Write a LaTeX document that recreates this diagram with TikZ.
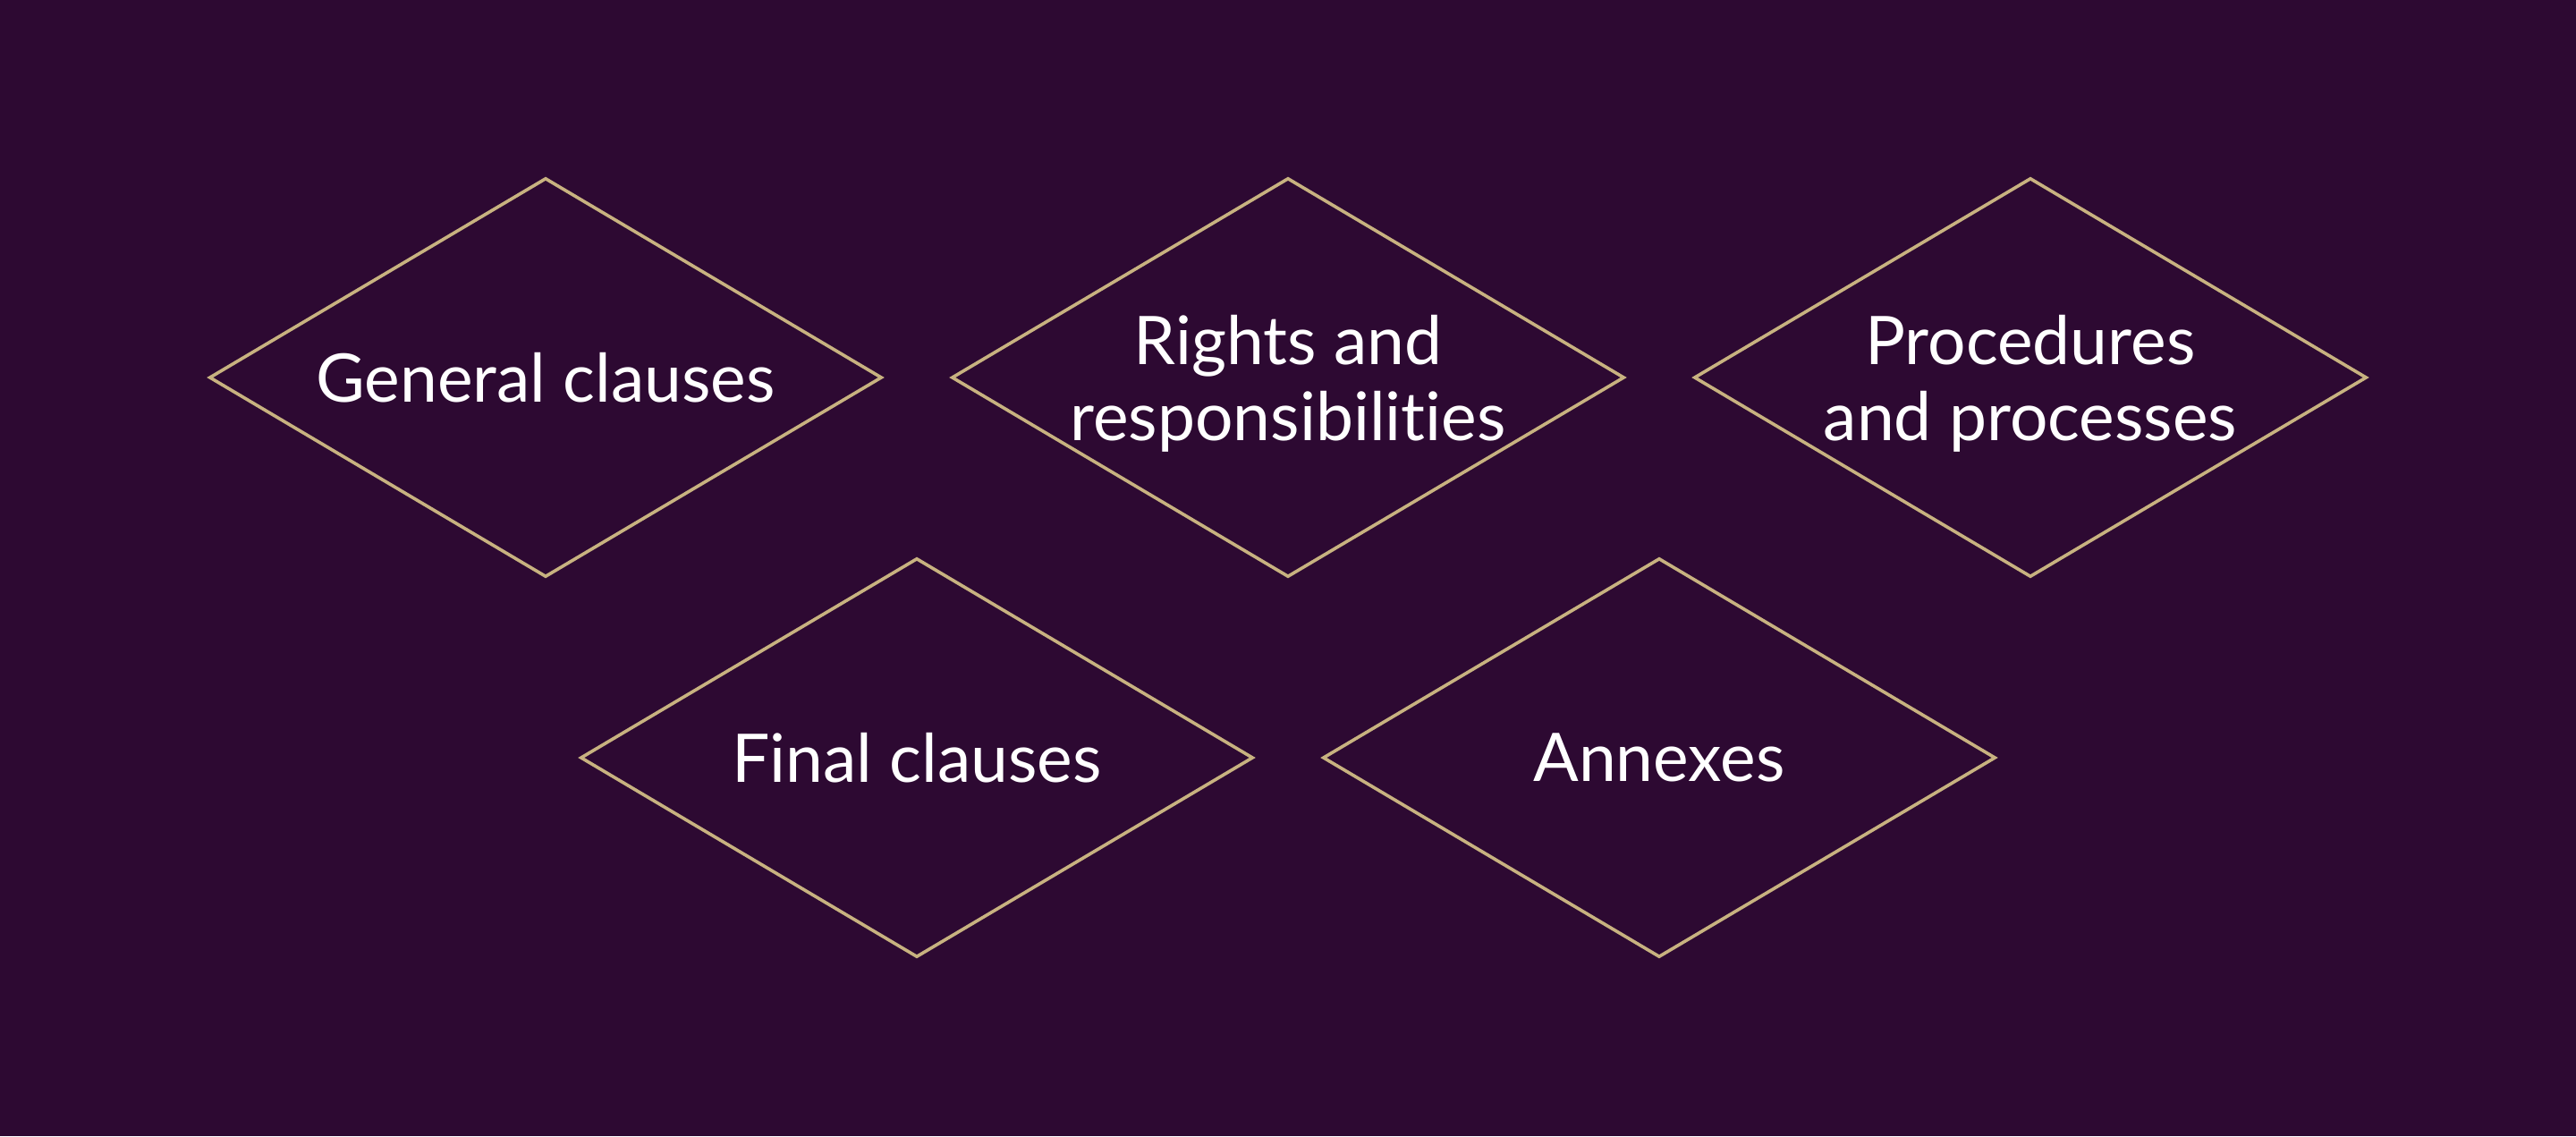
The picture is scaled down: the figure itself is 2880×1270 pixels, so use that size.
\documentclass[tikz,border=0pt]{standalone}
\usepackage{fontspec}
\setmainfont[Ligatures=NoCommon]{Lato}
\usetikzlibrary{shapes.geometric}
\definecolor{bgc}{RGB}{45,9,50}
\definecolor{goldline}{RGB}{200,178,128}
\tikzset{
  dia/.style={diamond, draw=goldline, line width=1.8pt, inner sep=0pt,
    minimum width=376pt, minimum height=223pt},
  lbl/.style={text=white, font=\fontsize{37.5}{42.5}\selectfont, align=center, inner sep=0pt}
}
\begin{document}
\begin{tikzpicture}[x=0.5pt,y=-0.5pt]
\fill[bgc] (0,0) rectangle (2880,1270);
\useasboundingbox (0,0) rectangle (2880,1270);
\node[dia] (d1) at (610,422) {};
\node[dia] (d2) at (1440,422) {};
\node[dia] (d3) at (2270,422) {};
\node[dia] (d4) at (1025,847) {};
\node[dia] (d5) at (1855,847) {};
\node[lbl] (t1) at (d1) {General clauses};
\node[lbl] (t2) at ([yshift=-3.5pt]d2.center) {Rights and\\responsibilities};
\node[lbl] (t3) at ([yshift=-3.5pt]d3.center) {Procedures\\and processes};
\node[lbl] (t4) at (d4) {Final clauses};
\node[lbl] (t5) at (d5) {Annexes};
\end{tikzpicture}
\end{document}
